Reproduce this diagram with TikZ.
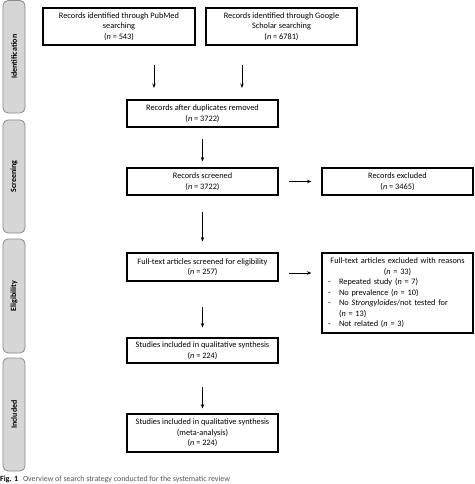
\documentclass[tikz,border=0pt]{standalone}
\usepackage{fontspec}
\setmainfont{Carlito}
\usetikzlibrary{arrows.meta,calc}
\definecolor{phasefill}{HTML}{D6D6D6}
\definecolor{phaseline}{HTML}{8A8A8A}
\definecolor{captext}{HTML}{555555}
\begin{document}
\begin{tikzpicture}[x=1pt,y=-1pt,
  box/.style={draw=black, line width=1.1pt, fill=white, inner sep=0pt, align=center,
    font=\fontsize{8.3}{10.5}\selectfont},
  phase/.style={draw=phaseline, line width=0.8pt, fill=phasefill, rounded corners=5pt,
    minimum width=22pt, inner sep=0pt},
  phaselabel/.style={rotate=90, font=\fontsize{8}{9}\selectfont\bfseries},
  arr/.style={-{Stealth[length=4.5pt,width=3.5pt]}, line width=0.9pt}]
\useasboundingbox (0,0) rectangle (474,484);
% phase bars
\node[phase, minimum height=112.5pt] (pid) at (14,56.75) {};
\node[phaselabel] (lid) at (pid.center) {Identification};
\node[phase, minimum height=113pt] (psc) at (14,176.5) {};
\node[phaselabel] (lsc) at (psc.center) {Screening};
\node[phase, minimum height=114pt] (pel) at (14,296) {};
\node[phaselabel] (lel) at (pel.center) {Eligibility};
\node[phase, minimum height=113pt] (pin) at (14,414.5) {};
\node[phaselabel] (lin) at (pin.center) {Included};
% boxes
\node[box, minimum width=152pt, minimum height=37pt] (pub) at (119,26.5)
  {Records identified through PubMed\\searching\\(\textit{n} = 543)};
\node[box, minimum width=151pt, minimum height=37pt] (goo) at (281.5,26.5)
  {Records identified through Google\\Scholar searching\\(\textit{n} = 6781)};
\node[box, minimum width=151pt, minimum height=27pt] (dup) at (202.5,113.5)
  {Records after duplicates removed\\(\textit{n} = 3722)};
\node[box, minimum width=151pt, minimum height=27pt] (scr) at (202.5,181.5)
  {Records screened\\(\textit{n} = 3722)};
\node[box, minimum width=151pt, minimum height=27pt] (exc) at (397.5,181.5)
  {Records excluded\\(\textit{n} = 3465)};
\node[box, minimum width=151pt, minimum height=28pt] (full) at (202.5,267)
  {Full-text articles screened for eligibility\\(\textit{n} = 257)};
\node[box, minimum width=151pt, minimum height=80pt, text width=139pt, align=left] (rea) at (397.5,293)
  {{\centering Full-text articles excluded with reasons\\(\textit{n} = 33)\par}
   \makebox[11pt][l]{-}Repeated study (\textit{n} = 7)\\
   \makebox[11pt][l]{-}No prevalence (\textit{n} = 10)\\
   \makebox[11pt][l]{-}No \textit{Strongyloides}/not tested for\\
   \hspace*{11pt}(\textit{n} = 13)\\
   \makebox[11pt][l]{-}Not related (\textit{n} = 3)};
\node[box, minimum width=151pt, minimum height=25pt] (qual) at (202.5,350.5)
  {Studies included in qualitative synthesis\\(\textit{n} = 224)};
\node[box, minimum width=151pt, minimum height=38pt] (meta) at (202.5,433)
  {Studies included in qualitative synthesis\\(meta-analysis)\\(\textit{n} = 224)};
% arrows
\coordinate (a1s) at (154,65);
\coordinate (a1e) at (154,88);
\coordinate (a2s) at (242,65);
\coordinate (a2e) at (242,88);
\draw[arr] (a1s) -- (a1e);
\draw[arr] (a2s) -- (a2e);
\draw[arr, shorten <=11pt, shorten >=6pt] (dup) -- (scr);
\draw[arr, shorten <=10pt, shorten >=10pt] (scr.east) -- (exc.west);
\draw[arr, shorten <=16pt, shorten >=11pt] (scr) -- (full);
\coordinate (h2s) at ($(full.east)+(10,6)$);
\coordinate (h2e) at ($(rea.west |- h2s)+(-10,0)$);
\draw[arr] (h2s) -- (h2e);
\draw[arr, shorten <=25pt, shorten >=10pt] (full) -- (qual);
\draw[arr, shorten <=23pt, shorten >=5pt] (qual) -- (meta);
% caption
\node[anchor=west, inner sep=0pt, font=\fontsize{7.9}{9}\selectfont] (cap) at (0,479)
  {\textbf{Fig. 1}\hspace{5pt}{\color{captext}Overview of search strategy conducted for the systematic review}};
\end{tikzpicture}
\end{document}
